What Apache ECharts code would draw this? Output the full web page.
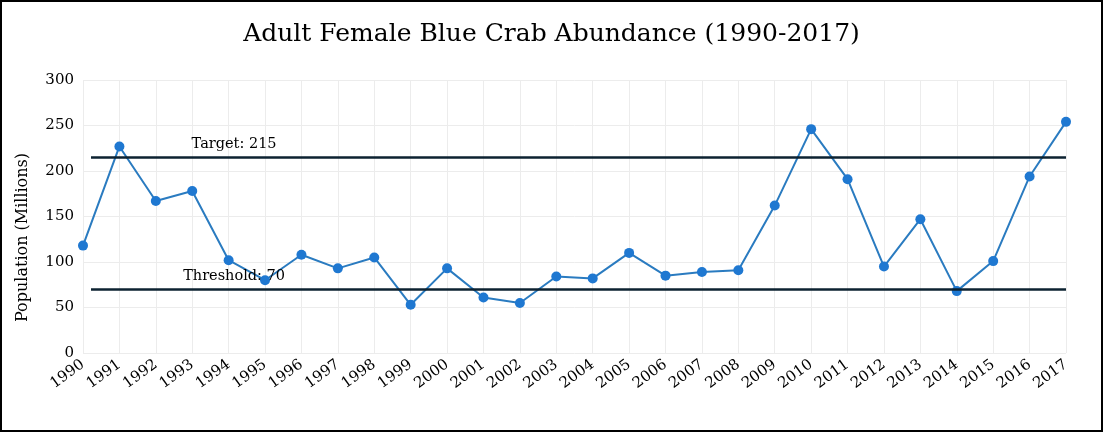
<!DOCTYPE html>
<html>

<head>
    <meta charset="utf-8" />
    <script src="https://cdn.jsdelivr.net/npm/echarts@6/dist/echarts.min.js"></script>
    <style>
        body { margin: 0; background: #fff; }
        #main { width: 1099px; height: 428px; border: 2px solid #000; }
    </style>
</head>

<body>
    <div id="main"></div>
    <script type="text/javascript">
        // 数据
        var years = [1990, 1991, 1992, 1993, 1994, 1995, 1996, 1997, 1998, 1999,
            2000, 2001, 2002, 2003, 2004, 2005, 2006, 2007, 2008, 2009,
            2010, 2011, 2012, 2013, 2014, 2015, 2016, 2017];
        var abundance = [118, 227, 167, 178, 102, 80, 108, 93, 105, 53,
            93, 61, 55, 84, 82, 110, 85, 89, 91, 162,
            246, 191, 95, 147, 68, 101, 194, 254];
        var target = 215;
        var threshold = 70;
        var yTicks = [0, 50, 100, 150, 200, 250, 300];

        var serif = '"DejaVu Serif", serif';
        var refColor = '#0c2231';
        var labelYear = 1994.15; // 参考线文字位置

        var myChart = echarts.init(document.getElementById('main'));

        var points = years.map(function (y, i) { return [y, abundance[i]]; });

        var option = {
            backgroundColor: '#fff',
            title: {
                text: 'Adult Female Blue Crab Abundance (1990-2017)',
                left: 'center',
                top: 15,
                textStyle: {
                    fontFamily: serif,
                    fontWeight: 'normal',
                    fontSize: 25,
                    color: '#000'
                }
            },
            grid: {
                left: 81,
                right: 35,
                top: 78,
                bottom: 77
            },
            xAxis: {
                type: 'value',
                min: years[0],
                max: years[years.length - 1],
                interval: 1,
                axisLine: { show: false },
                axisTick: { show: false },
                axisLabel: {
                    rotate: 36,
                    margin: 10,
                    fontFamily: serif,
                    fontSize: 15,
                    color: '#000',
                    showMinLabel: true,
                    showMaxLabel: true,
                    formatter: function (v) { return String(v); }
                },
                splitLine: { show: true, lineStyle: { color: '#ececec', width: 1 } }
            },
            yAxis: {
                type: 'value',
                min: yTicks[0],
                max: yTicks[yTicks.length - 1],
                interval: 50,
                name: 'Population (Millions)',
                nameLocation: 'middle',
                nameGap: 52,
                nameTextStyle: {
                    fontFamily: serif,
                    fontSize: 16,
                    color: '#000',
                    padding: [0, 42, 0, 0]
                },
                axisLine: { show: false },
                axisTick: { show: false },
                axisLabel: {
                    margin: 9,
                    fontFamily: serif,
                    fontSize: 15,
                    color: '#000'
                },
                splitLine: { show: true, lineStyle: { color: '#ececec', width: 1 } }
            },
            series: [
                {
                    name: 'Abundance',
                    type: 'line',
                    data: points,
                    color: '#1f78cc',
                    symbol: 'circle',
                    symbolSize: 10,
                    lineStyle: { width: 2, color: '#2a7bc0' },
                    itemStyle: { color: '#1f78d1' },
                    z: 3,
                    markLine: {
                        silent: true,
                        symbol: ['none', 'none'],
                        label: { show: false },
                        lineStyle: { color: refColor, width: 2.5, type: 'solid' },
                        z: 4,
                        data: [
                            [{ coord: [years[0] + 0.22, target] }, { coord: [years[years.length - 1], target] }],
                            [{ coord: [years[0] + 0.22, threshold] }, { coord: [years[years.length - 1], threshold] }]
                        ]
                    },
                    markPoint: {
                        silent: true,
                        symbol: 'circle',
                        symbolSize: 1,
                        itemStyle: { color: 'rgba(0,0,0,0)' },
                        label: {
                            show: true,
                            position: 'inside',
                            offset: [0, -13],
                            fontFamily: serif,
                            fontSize: 14.5,
                            color: '#000'
                        },
                        z: 5,
                        data: [
                            { coord: [labelYear, target], value: 'Target: ' + target, label: { formatter: 'Target: ' + target } },
                            { coord: [labelYear, threshold], value: 'Threshold: ' + threshold, label: { formatter: 'Threshold: ' + threshold } }
                        ]
                    }
                }
            ]
        };

        myChart.setOption(option);
    </script>
</body>

</html>
